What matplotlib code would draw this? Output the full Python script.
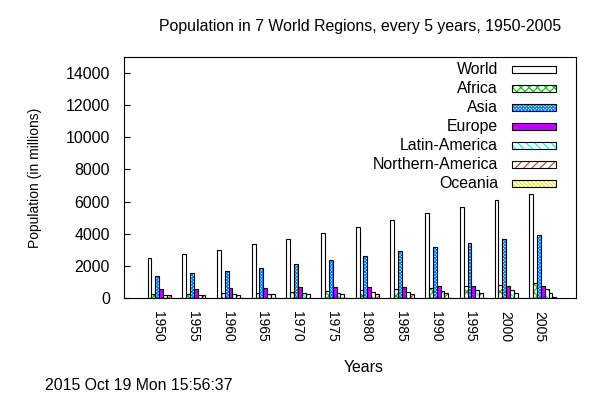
import matplotlib
matplotlib.use("Agg")
import matplotlib.pyplot as plt
from matplotlib.patches import Rectangle
from matplotlib.transforms import ScaledTranslation
import numpy as np

years = ["1950", "1955", "1960", "1965", "1970", "1975", "1980", "1985",
         "1990", "1995", "2000", "2005"]
regions = ["World", "Africa", "Asia", "Europe", "Latin-America",
           "Northern-America", "Oceania"]
world = [2519, 2756, 2982, 3335, 3692, 4068, 4435, 4831, 5264, 5674, 6071, 6454]
africa = [224, 251, 282, 320, 364, 420, 480, 550, 630, 720, 812, 905]
asia = [1396, 1541, 1695, 1895, 2131, 2384, 2634, 2897, 3181, 3430, 3676, 3905]
europe = [547, 575, 604, 634, 656, 676, 693, 707, 721, 727, 727, 730]
latin_america = [167, 192, 219, 251, 285, 323, 362, 403, 443, 484, 523, 558]
northern_america = [172, 187, 204, 219, 232, 243, 256, 269, 284, 301, 316, 332]
oceania = [13, 14, 16, 18, 20, 21, 23, 25, 27, 29, 31, 33]
series = [world, africa, asia, europe, latin_america, northern_america, oceania]

colors = ["white", "#00c000", "#0080ff", "#c000ff", "#00eeee", "#c04000", "#e8e800"]
hatches = [None, "xxxx", "xxxxxxxxxx", None, "\\" * 4, "/" * 4, "\\" * 8]
solid = [False, False, False, True, False, False, False]

plt.rcParams["font.family"] = ["Liberation Sans", "DejaVu Sans"]
plt.rcParams["hatch.linewidth"] = 0.8
FS = 11.4   # horizontal text
FSR = 10    # rotated text

fig = plt.figure(figsize=(6, 4), dpi=100)
ax = fig.add_axes([124 / 600, 1 - 298 / 400, (575.7 - 124) / 600, (298 - 57) / 400])

n = len(regions)
gap = 2
w = 1.0 / (n + gap)
x = np.arange(len(years))
for j, (vals, c, h, s) in enumerate(zip(series, colors, hatches, solid)):
    pos = x + (j - (n - 1) / 2) * w
    if s:
        ax.bar(pos, vals, width=w, facecolor=c, edgecolor="black", linewidth=0.8, zorder=2)
    else:
        if h:
            ax.bar(pos, vals, width=w, facecolor="white", edgecolor=c, hatch=h,
                   linewidth=0, zorder=2)
        else:
            ax.bar(pos, vals, width=w, facecolor="white", linewidth=0, zorder=2)
        ax.bar(pos, vals, width=w, fill=False, edgecolor="black", linewidth=0.8, zorder=3)

ax.set_xlim(-1.07, 11.95)
ax.set_ylim(0, 15000)
ax.set_yticks(np.arange(0, 14001, 2000))
ax.tick_params(axis="y", direction="in", length=4, width=0.8, pad=10, labelsize=FS,
               right=False)
ax.set_xticks(x)
ax.set_xticklabels(years, rotation=270, fontsize=FSR)
ax.tick_params(axis="x", length=0, pad=9.5)
off = ScaledTranslation(-3 / 100, 0, fig.dpi_scale_trans)
for lab in ax.get_xticklabels():
    lab.set_transform(lab.get_transform() + off)
for sp in ax.spines.values():
    sp.set_linewidth(0.8)

def fx(px):
    return px / 600

def fy(py):
    return 1 - py / 400

fig.text(fx(360), fy(27), "Population in 7 World Regions, every 5 years, 1950-2005",
         ha="center", va="center", fontsize=FS)
fig.text(fx(35), fy(178), "Population (in millions)", rotation=90,
         ha="center", va="center", fontsize=FSR)
fig.text(fx(364), fy(367), "Years", ha="center", va="center", fontsize=FS)
fig.text(fx(45), fy(385), "2015 Oct 19 Mon 15:56:37", ha="left", va="center", fontsize=FS)

# legend
for k, (name, c, h, s) in enumerate(zip(regions, colors, hatches, solid)):
    cy = 69.5 + 19 * k
    fig.text(fx(498), fy(cy), name, ha="right", va="center", fontsize=FS)
    x0, x1 = 511.5, 555.5
    y0, y1 = cy + 3.8, cy - 3.8
    if s:
        fig.add_artist(Rectangle((fx(x0), fy(y0)), fx(x1) - fx(x0), fy(y1) - fy(y0),
                                 transform=fig.transFigure, facecolor=c,
                                 edgecolor="black", linewidth=0.8))
    else:
        if h:
            fig.add_artist(Rectangle((fx(x0), fy(y0)), fx(x1) - fx(x0), fy(y1) - fy(y0),
                                     transform=fig.transFigure, facecolor="white",
                                     edgecolor=c, hatch=h, linewidth=0))
        fig.add_artist(Rectangle((fx(x0), fy(y0)), fx(x1) - fx(x0), fy(y1) - fy(y0),
                                 transform=fig.transFigure, fill=False,
                                 edgecolor="black", linewidth=0.8))

fig.savefig("out.png", dpi=100)
